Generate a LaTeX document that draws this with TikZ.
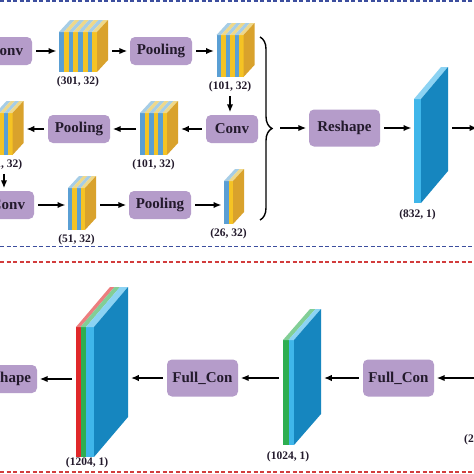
\documentclass[tikz,border=0pt]{standalone}
\usepackage{fontspec}
\setmainfont{Liberation Serif}
\usepackage{tikz}
\usetikzlibrary{arrows.meta,calc,decorations.pathreplacing}
\usepackage{xcolor}
\definecolor{CubeBlue}{HTML}{5A9FD4}
\definecolor{CubeYellow}{HTML}{F5C324}
\definecolor{CubeSide}{HTML}{D9A22C}
\definecolor{CubeTopBlue}{HTML}{A6CDE6}
\definecolor{CubeTopYellow}{HTML}{EED88A}
\definecolor{BoxPurple}{HTML}{B59CCA}
\definecolor{InkDark}{HTML}{231A2C}
\definecolor{PanelLight}{HTML}{3FB6EA}
\definecolor{PanelDeep}{HTML}{1686BF}
\definecolor{PanelRed}{HTML}{E0282A}
\definecolor{PanelGreen}{HTML}{2EAE50}
\definecolor{DashBlue}{HTML}{3C4E9E}
\definecolor{DashRed}{HTML}{D23C3C}

% striped feature cube: name, left x, front top y, width, height, stripes, label
\newcommand{\stripecube}[7]{%
  \pgfmathsetmacro\stw{#4/#6}
  \foreach \i in {1,...,#6}{
    \pgfmathsetmacro\stx{#2+(\i-1)*\stw}
    \ifodd\i\relax \def\stf{CubeBlue}\def\stt{CubeTopBlue}\else \def\stf{CubeYellow}\def\stt{CubeTopYellow}\fi
    \fill[\stf] (\stx,#3) rectangle ++(\stw,#5);
    \fill[\stt] (\stx,#3) -- ++(11,-12) -- ++(\stw,0) -- ++(-11,12) -- cycle;
  }
  \fill[CubeSide] (#2+#4,#3) -- ++(11,-12) -- ++(0,#5) -- ++(-11,12) -- cycle;
  \node[inner sep=0pt, minimum width={(#4+11)*1pt}, minimum height={(#5+12)*1pt}, anchor=north west] (#1) at (#2,#3-12) {};
  \node[dimlab] (#1l) at (#2+#4/2,#3+#5+4) {#7};
}

% flat slab: name, strips c/xa/xb, right x of front, top y, bottom y, dx, dy, left x
\newcommand{\slab}[8]{%
  \foreach \sc/\sa/\sb in {#2}{
    \fill[\sc] (\sa,#4) rectangle (\sb,#5);
    \fill[\sc!60!white] (\sa,#4) -- ++(#6,-#7) -- ++(\sb-\sa,0) -- (\sb,#4) -- cycle;
  }
  \fill[PanelDeep] (#3,#4) -- ++(#6,-#7) -- ++(0,#5-#4) -- (#3,#5) -- cycle;
  \node[inner sep=0pt, minimum width={(#3-#8+#6)*1pt}, minimum height={(#5-#4+#7)*1pt}, anchor=south west] (#1) at (#8,#5) {};
}

\tikzset{
  layer/.style={rectangle, rounded corners=5pt, fill=BoxPurple, text=InkDark,
    font=\bfseries\fontsize{15}{18}\selectfont, minimum height=28pt, inner sep=0pt},
  bigger/.style={layer, minimum width=71pt, minimum height=37pt},
  dimlab/.style={anchor=north, inner sep=0pt, text=InkDark, font=\bfseries\fontsize{11.5}{13}\selectfont},
  arr/.style={-{Latex[length=8pt,width=6.5pt]}, line width=1.6pt, shorten <=4pt, shorten >=2.5pt},
  sepblue/.style={draw=DashBlue, line width=1.5pt, dash pattern=on 4pt off 2.5pt},
  sepred/.style={draw=DashRed, line width=1.5pt, dash pattern=on 4pt off 2.5pt},
  brace/.style={decorate, decoration={brace, amplitude=12pt}, line width=1.4pt}
}

\begin{document}
\begin{tikzpicture}[x=1pt, y=-1pt]
    \clip (0,0) rectangle (474,474);
    \fill[white] (0,0) rectangle (474,474);

    % dashed frames
    \draw[sepblue] (0,1) -- (474,1);
    \draw[sepblue] (0,246.5) -- (474,246.5);
    \draw[sepred] (0,262) -- (474,262);
    \draw[sepred] (0,472) -- (474,472);

    % upper part: conv and pooling
    \node[layer, minimum width=52pt] (conv1) at (6,51) {Conv};
    \node[layer, minimum width=62pt] (pool1) at (161,51) {Pooling};
    \node[layer, minimum width=52pt] (conv2) at (232,129) {Conv};
    \node[layer, minimum width=62pt] (pool2) at (79,129) {Pooling};
    \node[layer, minimum width=52pt] (conv3) at (8,205) {Conv};
    \node[layer, minimum width=62pt] (pool3) at (160,205) {Pooling};

    \stripecube{c301}{59}{32}{38}{40}{8}{(301, 32)}
    \stripecube{c101a}{216.5}{35}{27}{42}{6}{(101, 32)}
    \stripecube{c101b}{140}{113}{27}{42}{6}{(101, 32)}
    \stripecube{c51a}{-4.5}{113}{17}{42}{4}{(51, 32)}
    \stripecube{c51b}{68}{188}{17}{42}{4}{(51, 32)}
    \stripecube{c26}{224}{181}{9}{43}{2}{(26, 32)}

    \draw[arr] (conv1.east) -- (conv1.east -| c301.west);
    \draw[arr] (conv1.east -| c301.east) -- (pool1.west);
    \draw[arr] (pool1.east) -- (pool1.east -| c101a.west);
    \draw[arr] (c101al.south) -- (c101al.south |- conv2.north);
    \draw[arr] (conv2.west) -- (conv2.west -| c101b.east);
    \draw[arr] (pool2.east -| c101b.west) -- (pool2.east);
    \draw[arr] (pool2.west) -- (pool2.west -| c51a.east);
    \draw[arr] (c51al.south) -- (c51al.south |- conv3.north);
    \draw[arr] (conv3.east) -- (conv3.east -| c51b.west);
    \draw[arr] (conv3.east -| c51b.east) -- (pool3.west);
    \draw[arr] (pool3.east) -- (pool3.east -| c26.west);

    \draw[brace] (260,37) -- (260,220);
    \coordinate (brtip) at (276,128);
    \node[bigger] (reshape) at (344.5,128) {Reshape};
    \draw[arr] (brtip) -- (brtip -| reshape.west);

    \slab{p832}{PanelLight/414/421}{421}{99}{203}{27}{32}{414}
    \node[dimlab] (p832l) at (417.5,209) {(832, 1)};
    \coordinate (out832) at (480,128);
    \draw[arr] (reshape.east) -- (reshape.east -| p832.west);
    \draw[arr] (reshape.east -| p832.east) -- (out832);

    % lower part: fully connected
    \node[layer, minimum width=66pt] (reshape2) at (4,379) {Reshape};
    \node[bigger] (fc1) at (202.5,378) {Full\_Con};
    \node[bigger] (fc2) at (398.5,378) {Full\_Con};

    \slab{p1204}{PanelRed/76/80.5, PanelGreen/80.5/86, PanelLight/86/94}{94}{327}{457}{34}{40}{76}
    \node[dimlab] (p1204l) at (87,457) {(1204, 1)};
    \slab{p1024}{PanelGreen/283/288.5, PanelLight/288.5/294}{294}{340}{445}{27}{31}{283}
    \node[dimlab] (p1024l) at (288,451) {(1024, 1)};
    \node[dimlab, anchor=north west] (p256l) at (464,434) {(256, 1)};

    \coordinate (fcin) at (482,378);
    \draw[arr] (fcin) -- (fc2.east);
    \draw[arr] (fc2.west) -- (fc2.west -| p1024.east);
    \draw[arr] (fc1.east -| p1024.west) -- (fc1.east);
    \draw[arr] (fc1.west) -- (fc1.west -| p1204.east);
    \draw[arr] (reshape2.east -| p1204.west) -- (reshape2.east);
\end{tikzpicture}
\end{document}
